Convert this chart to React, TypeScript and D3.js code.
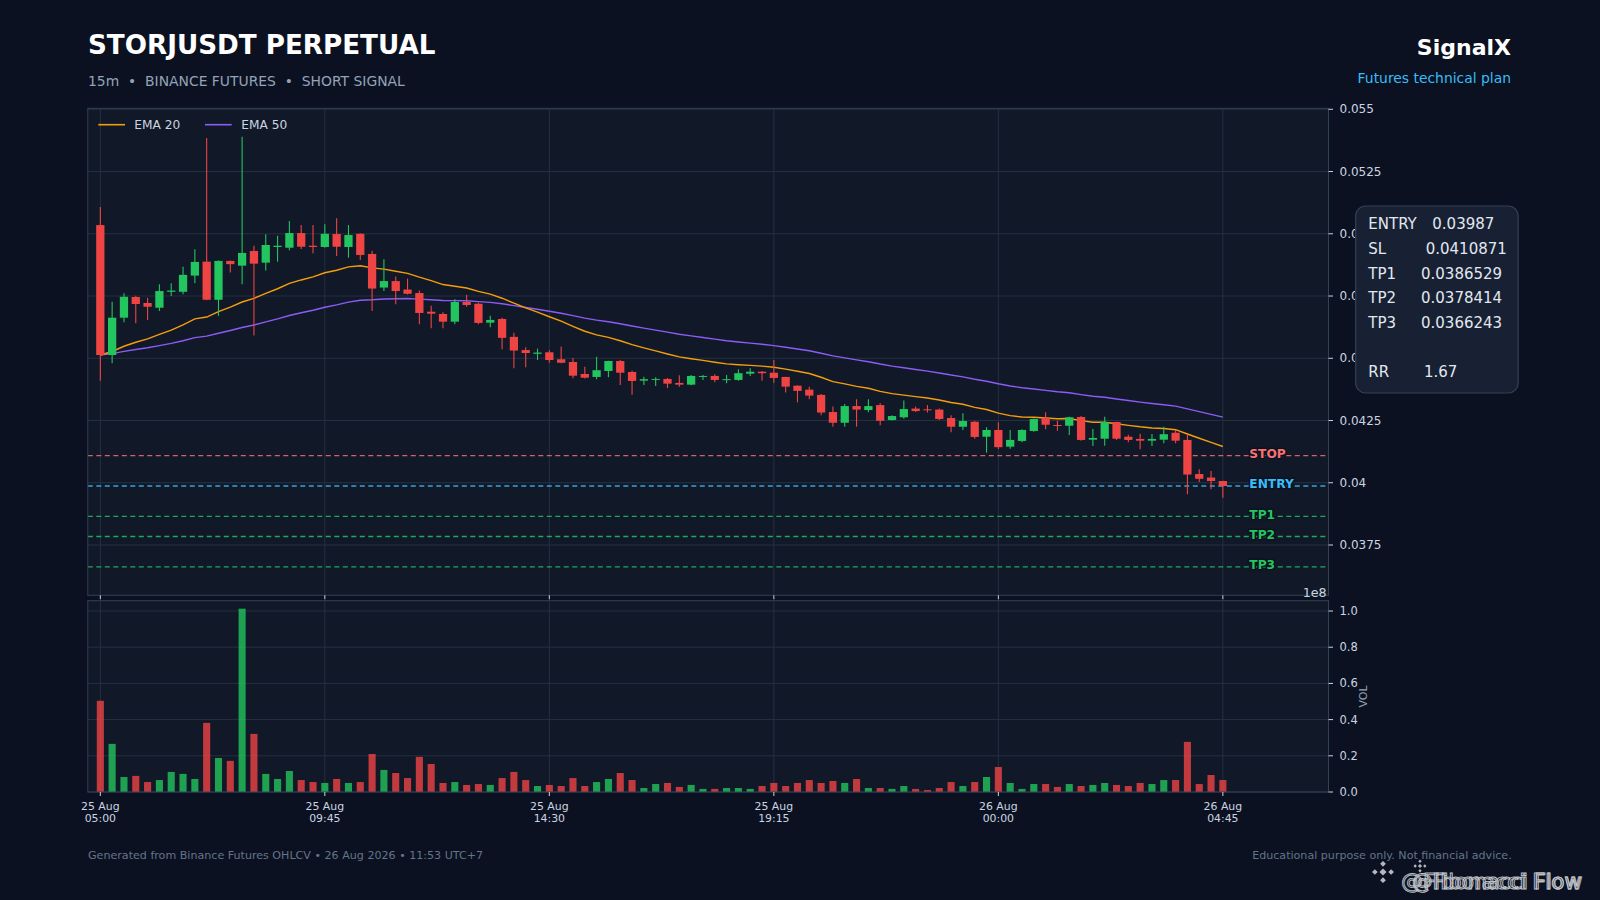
import React from 'react';
import * as d3 from 'd3';

// 15m candles, 25 Aug 05:00 -> 26 Aug 04:45
const opens = [
  0.05035, 0.04513, 0.04663, 0.04746, 0.04722, 0.04703, 0.04767, 0.04767, 0.04832, 0.04888,
  0.04735, 0.04891, 0.04872, 0.04931, 0.04884, 0.04947, 0.04944, 0.05003, 0.04952, 0.04947,
  0.04999, 0.04947, 0.05000, 0.04919, 0.04784, 0.04810, 0.04776, 0.04762, 0.04687, 0.04678,
  0.04647, 0.04726, 0.04719, 0.04643, 0.04658, 0.04586, 0.04533, 0.04518, 0.04524, 0.04496,
  0.04485, 0.04437, 0.04425, 0.04449, 0.04489, 0.04445, 0.04410, 0.04413, 0.04417, 0.04401,
  0.04394, 0.04425, 0.04429, 0.04412, 0.04413, 0.04438, 0.04446, 0.04442, 0.04425, 0.04390,
  0.04374, 0.04353, 0.04284, 0.04241, 0.04308, 0.04292, 0.04312, 0.04252, 0.04263, 0.04298,
  0.04295, 0.04294, 0.04260, 0.04225, 0.04245, 0.04185, 0.04212, 0.04145, 0.04168, 0.04208,
  0.04261, 0.04232, 0.04229, 0.04264, 0.04173, 0.04177, 0.04244, 0.04185, 0.04176, 0.04169,
  0.04173, 0.04201, 0.04172, 0.04035, 0.04021, 0.04007,
];
const highs = [
  0.05108, 0.04727, 0.04761, 0.04751, 0.04743, 0.04797, 0.04801, 0.04868, 0.04938, 0.05385,
  0.04893, 0.04893, 0.05390, 0.04952, 0.04998, 0.04992, 0.05051, 0.05035, 0.05035, 0.05038,
  0.05062, 0.05035, 0.05002, 0.04932, 0.04898, 0.04828, 0.04820, 0.04772, 0.04711, 0.04685,
  0.04737, 0.04755, 0.04723, 0.04671, 0.04663, 0.04603, 0.04544, 0.04539, 0.04532, 0.04547,
  0.04501, 0.04466, 0.04506, 0.04490, 0.04493, 0.04450, 0.04426, 0.04424, 0.04421, 0.04432,
  0.04433, 0.04433, 0.04436, 0.04433, 0.04456, 0.04460, 0.04449, 0.04493, 0.04426, 0.04391,
  0.04386, 0.04357, 0.04306, 0.04316, 0.04335, 0.04335, 0.04319, 0.04271, 0.04330, 0.04306,
  0.04312, 0.04298, 0.04271, 0.04279, 0.04248, 0.04223, 0.04243, 0.04212, 0.04215, 0.04258,
  0.04283, 0.04249, 0.04265, 0.04268, 0.04216, 0.04265, 0.04245, 0.04193, 0.04197, 0.04196,
  0.04225, 0.04212, 0.04195, 0.04054, 0.04047, 0.04008,
];
const lows = [
  0.04410, 0.04480, 0.04645, 0.04641, 0.04654, 0.04690, 0.04750, 0.04757, 0.04801, 0.04733,
  0.04670, 0.04845, 0.04797, 0.04591, 0.04853, 0.04888, 0.04934, 0.04939, 0.04922, 0.04944,
  0.04911, 0.04904, 0.04895, 0.04690, 0.04770, 0.04717, 0.04756, 0.04637, 0.04621, 0.04621,
  0.04637, 0.04707, 0.04637, 0.04625, 0.04536, 0.04460, 0.04464, 0.04493, 0.04482, 0.04480,
  0.04420, 0.04419, 0.04416, 0.04424, 0.04393, 0.04353, 0.04393, 0.04389, 0.04380, 0.04386,
  0.04392, 0.04413, 0.04404, 0.04400, 0.04410, 0.04429, 0.04410, 0.04402, 0.04363, 0.04323,
  0.04335, 0.04271, 0.04225, 0.04225, 0.04225, 0.04283, 0.04231, 0.04250, 0.04257, 0.04284,
  0.04282, 0.04252, 0.04203, 0.04212, 0.04177, 0.04121, 0.04136, 0.04137, 0.04163, 0.04205,
  0.04215, 0.04209, 0.04192, 0.04169, 0.04148, 0.04149, 0.04172, 0.04163, 0.04135, 0.04148,
  0.04159, 0.04159, 0.03954, 0.04003, 0.03974, 0.03940,
];
const closes = [
  0.04513, 0.04663, 0.04747, 0.04718, 0.04707, 0.04770, 0.04772, 0.04835, 0.04887, 0.04735,
  0.04891, 0.04878, 0.04923, 0.04880, 0.04955, 0.04952, 0.05003, 0.04948, 0.04947, 0.05000,
  0.04948, 0.04995, 0.04915, 0.04780, 0.04810, 0.04770, 0.04759, 0.04682, 0.04679, 0.04647,
  0.04726, 0.04714, 0.04642, 0.04654, 0.04582, 0.04531, 0.04521, 0.04523, 0.04493, 0.04482,
  0.04430, 0.04422, 0.04452, 0.04489, 0.04442, 0.04409, 0.04416, 0.04417, 0.04398, 0.04394,
  0.04429, 0.04429, 0.04413, 0.04416, 0.04440, 0.04446, 0.04440, 0.04421, 0.04386, 0.04369,
  0.04350, 0.04282, 0.04241, 0.04308, 0.04294, 0.04308, 0.04249, 0.04268, 0.04296, 0.04288,
  0.04291, 0.04256, 0.04225, 0.04248, 0.04184, 0.04212, 0.04143, 0.04172, 0.04212, 0.04256,
  0.04233, 0.04228, 0.04263, 0.04172, 0.04180, 0.04244, 0.04177, 0.04172, 0.04169, 0.04176,
  0.04195, 0.04169, 0.04033, 0.04016, 0.04007, 0.03987,
];
// volume in millions of contracts
const volumeM = [
  50.4, 26.6, 8.3, 8.9, 5.5, 6.6, 11.1, 10.0, 7.2, 38.2,
  18.8, 17.2, 101.3, 32.1, 10.0, 7.2, 11.6, 6.6, 5.5, 5.0,
  7.2, 5.0, 5.5, 21.0, 12.2, 10.5, 7.7, 19.4, 15.5, 5.0,
  5.5, 3.9, 4.4, 3.9, 7.7, 11.1, 6.6, 3.3, 3.9, 3.3,
  7.7, 3.3, 5.5, 7.2, 10.5, 6.6, 2.2, 4.4, 5.0, 2.8,
  3.9, 1.7, 1.7, 2.2, 2.2, 1.7, 3.3, 5.0, 3.3, 5.0,
  6.6, 5.0, 6.1, 5.0, 7.2, 2.2, 2.2, 1.7, 3.3, 1.7,
  1.1, 2.2, 5.5, 3.3, 5.5, 8.3, 13.8, 5.0, 1.7, 4.4,
  4.4, 2.8, 4.4, 3.3, 3.9, 5.0, 3.9, 3.3, 5.0, 4.4,
  6.6, 6.6, 27.7, 4.4, 9.4, 6.6,
];

const xTickIdx = [0, 19, 38, 57, 76, 95];
const xTickDates = ['25 Aug', '25 Aug', '25 Aug', '25 Aug', '26 Aug', '26 Aug'];
const xTickTimes = ['05:00', '09:45', '14:30', '19:15', '00:00', '04:45'];
const priceTicks = [0.0375, 0.04, 0.0425, 0.045, 0.0475, 0.05, 0.0525, 0.055];
const volTicks = [0, 20, 40, 60, 80, 100];

const levelNames = ['STOP', 'ENTRY', 'TP1', 'TP2', 'TP3'];
const levelValues = [0.0410871, 0.03987, 0.0386529, 0.0378414, 0.0366243];
const levelColors = ['#f87171', '#38bdf8', '#22c55e', '#22c55e', '#22c55e'];

const planLabels = ['ENTRY', 'SL', 'TP1', 'TP2', 'TP3', '', 'RR'];
const planValues = ['0.03987', '0.0410871', '0.0386529', '0.0378414', '0.0366243', '', '1.67'];
const planValueX = [1432.3, 1425.7, 1421, 1421, 1421, 0, 1424];

const FONT = '"DejaVu Sans", "Noto Sans", sans-serif';
const UP = '#22c55e';
const DOWN = '#ef4444';
const GRID = '#243044';
const SPINE = '#334155';
const TICK_TEXT = '#cbd5e1';

function ema(values: number[], n: number) {
  const a = 2 / (n + 1);
  const out: number[] = [];
  values.forEach((v, i) => out.push(i === 0 ? v : a * v + (1 - a) * out[i - 1]));
  return out;
}

function BinanceLogo({ cx, cy, s, color }: { cx: number; cy: number; s: number; color: string }) {
  const d = s / 4.6;
  const sq = (x: number, y: number, r: number) =>
    `M${x},${y - r}L${x + r},${y}L${x},${y + r}L${x - r},${y}Z`;
  return (
    <path
      d={[sq(cx, cy, d * 0.75), sq(cx, cy - 1.7 * d, d * 0.6), sq(cx, cy + 1.7 * d, d * 0.6),
        sq(cx - 1.7 * d, cy, d * 0.6), sq(cx + 1.7 * d, cy, d * 0.6)].join('')}
      fill={color}
    />
  );
}

export default function App() {
  const left = 87.8;
  const right = 1328.5;
  const pTop = 108.3;
  const pBottom = 595.3;
  const vTop = 600.7;
  const vBottom = 792;

  const x = d3.scaleLinear().domain([-1.06, 103.94]).range([left, right]);
  const y = d3.scaleLinear().domain([0.03548, 0.05504]).range([pBottom, pTop]);
  const yv = d3.scaleLinear().domain([0, 105.7]).range([vBottom, vTop]);
  const step = x(1) - x(0);

  const ema20 = ema(closes, 20);
  const ema50 = ema(closes, 50);
  const line = d3.line<number>().x((_, i) => x(i)).y((d) => y(d));

  return (
    <svg
      width={1600}
      height={900}
      style={{ position: 'absolute', left: 0, top: 0, display: 'block' }}
      fontFamily={FONT}
    >
      <rect width={1600} height={900} fill="#0b1120" />

      {/* header */}
      <text x={88} y={54.3} fill="#ffffff" fontSize={26.2} fontWeight="bold">STORJUSDT PERPETUAL</text>
      <text x={88} y={85.7} fill="#94a3b8" fontSize={13.9} style={{ whiteSpace: 'pre' }}>
        {'15m  •  BINANCE FUTURES  •  SHORT SIGNAL'}
      </text>
      <text x={1511} y={55} fill="#ffffff" fontSize={22} fontWeight="bold" textAnchor="end">SignalX</text>
      <text x={1511} y={82.7} fill="#38bdf8" fontSize={13.9} textAnchor="end">Futures technical plan</text>

      {/* price panel */}
      <rect x={left} y={pTop} width={right - left} height={pBottom - pTop} fill="#111827" />
      {priceTicks.map((t) => (
        <line key={t} x1={left} x2={right} y1={y(t)} y2={y(t)} stroke={GRID} strokeWidth={1} />
      ))}
      {xTickIdx.map((i) => (
        <line key={i} x1={x(i)} x2={x(i)} y1={pTop} y2={pBottom} stroke={GRID} strokeWidth={1} />
      ))}

      {levelValues.map((v, k) => (
        <line key={levelNames[k]} x1={left} x2={right} y1={y(v)} y2={y(v)}
          stroke={levelColors[k]} strokeOpacity={0.85} strokeWidth={1.3} strokeDasharray="5,3.5" />
      ))}

      <path d={line(ema50) || ''} fill="none" stroke="#8b5cf6" strokeWidth={1.4} />
      <path d={line(ema20) || ''} fill="none" stroke="#f59e0b" strokeWidth={1.4} />

      {opens.map((o, i) => {
        const c = closes[i];
        const col = c >= o ? UP : DOWN;
        const top = y(Math.max(o, c));
        const h = Math.max(1, y(Math.min(o, c)) - top);
        const bw = step * 0.7;
        return (
          <g key={i}>
            <line x1={x(i)} x2={x(i)} y1={y(highs[i])} y2={y(lows[i])} stroke={col} strokeWidth={1.1} />
            <rect x={x(i) - bw / 2} y={top} width={bw} height={h} fill={col} />
          </g>
        );
      })}

      {levelNames.map((n, k) => (
        <text key={n} x={x(97.24)} y={y(levelValues[k]) - 1.5} fill={levelColors[k]} fontSize={12.2}
          fontWeight="bold" dominantBaseline="central" stroke="#0b1120" strokeWidth={3}
          strokeLinejoin="round" style={{ paintOrder: 'stroke' }}>
          {n}
        </text>
      ))}

      {/* legend */}
      <line x1={98.3} x2={125} y1={124.7} y2={124.7} stroke="#f59e0b" strokeWidth={1.6} />
      <text x={134.3} y={124.7} fill={TICK_TEXT} fontSize={12.2} dominantBaseline="central">EMA 20</text>
      <line x1={205} x2={231.7} y1={124.7} y2={124.7} stroke="#8b5cf6" strokeWidth={1.6} />
      <text x={241.3} y={124.7} fill={TICK_TEXT} fontSize={12.2} dominantBaseline="central">EMA 50</text>

      <rect x={left} y={pTop} width={right - left} height={pBottom - pTop} fill="none" stroke={SPINE} strokeWidth={1} />
      {priceTicks.map((t) => (
        <g key={t}>
          <line x1={right} x2={right + 4.5} y1={y(t)} y2={y(t)} stroke={TICK_TEXT} strokeWidth={1} />
          <text x={right + 11} y={y(t)} fill={TICK_TEXT} fontSize={12} dominantBaseline="central">
            {String(t)}
          </text>
        </g>
      ))}
      {xTickIdx.map((i) => (
        <line key={i} x1={x(i)} x2={x(i)} y1={pBottom} y2={pBottom + 4} stroke={TICK_TEXT} strokeWidth={1} />
      ))}

      {/* volume panel */}
      <rect x={left} y={vTop} width={right - left} height={vBottom - vTop} fill="#111827" />
      {volTicks.map((t) => (
        <line key={t} x1={left} x2={right} y1={yv(t)} y2={yv(t)} stroke={GRID} strokeWidth={1} />
      ))}
      {xTickIdx.map((i) => (
        <line key={i} x1={x(i)} x2={x(i)} y1={vTop} y2={vBottom} stroke={GRID} strokeWidth={1} />
      ))}
      {volumeM.map((v, i) => {
        const bw = step * 0.6;
        return (
          <rect key={i} x={x(i) - bw / 2} y={yv(v)} width={bw} height={yv(0) - yv(v)}
            fill={closes[i] >= opens[i] ? UP : DOWN} fillOpacity={0.8} />
        );
      })}
      <rect x={left} y={vTop} width={right - left} height={vBottom - vTop} fill="none" stroke={SPINE} strokeWidth={1} />
      {volTicks.map((t) => (
        <g key={t}>
          <line x1={right} x2={right + 4.5} y1={yv(t)} y2={yv(t)} stroke={TICK_TEXT} strokeWidth={1} />
          <text x={right + 11} y={yv(t)} fill={TICK_TEXT} fontSize={11.5} dominantBaseline="central">
            {(t / 100).toFixed(1)}
          </text>
        </g>
      ))}
      <text x={1326.7} y={596.7} fill={TICK_TEXT} fontSize={12.7} textAnchor="end">1e8</text>
      <text x={0} y={0} fill="#94a3b8" fontSize={11} textAnchor="middle" dominantBaseline="central"
        transform={`translate(1363,696.5) rotate(-90)`}>VOL</text>
      {xTickIdx.map((i, k) => (
        <g key={i}>
          <line x1={x(i)} x2={x(i)} y1={vBottom} y2={vBottom + 4} stroke={TICK_TEXT} strokeWidth={1} />
          <text x={x(i)} y={810} fill={TICK_TEXT} fontSize={10.9} textAnchor="middle">{xTickDates[k]}</text>
          <text x={x(i)} y={821.5} fill={TICK_TEXT} fontSize={10.9} textAnchor="middle">{xTickTimes[k]}</text>
        </g>
      ))}

      {/* trade plan box */}
      <rect x={1355.7} y={206} width={162.5} height={187} rx={10} fill="#172133" stroke={SPINE} strokeWidth={1.2} />
      {planLabels.map((lab, k) => (
        lab ? (
          <g key={k}>
            <text x={1368.3} y={224.3 + k * 24.68} fill="#e2e8f0" fontSize={15} dominantBaseline="central">{lab}</text>
            <text x={planValueX[k]} y={224.3 + k * 24.68} fill="#e2e8f0" fontSize={15} dominantBaseline="central">{planValues[k]}</text>
          </g>
        ) : null
      ))}

      {/* footer */}
      <text x={88} y={859.3} fill="#64748b" fontSize={11.1}>
        Generated from Binance Futures OHLCV • 26 Aug 2026 • 11:53 UTC+7
      </text>
      <text x={1511.7} y={859.3} fill="#64748b" fontSize={11.1} textAnchor="end">
        Educational purpose only. Not financial advice.
      </text>

      {/* watermark */}
      <g opacity={0.85}>
        <BinanceLogo cx={1383} cy={872} s={22} color="#d1d5db" />
        <text x={1401} y={889} fill="none" stroke="#d1d5db" strokeWidth={1} fontSize={22}>@Fibonacci Flow</text>
        <BinanceLogo cx={1420} cy={866} s={13} color="#d1d5db" />
        <text x={1412} y={889} fill="none" stroke="#e5e7eb" strokeWidth={0.9} fontSize={20.5}>@Fibonacci Flow</text>
      </g>
    </svg>
  );
}
